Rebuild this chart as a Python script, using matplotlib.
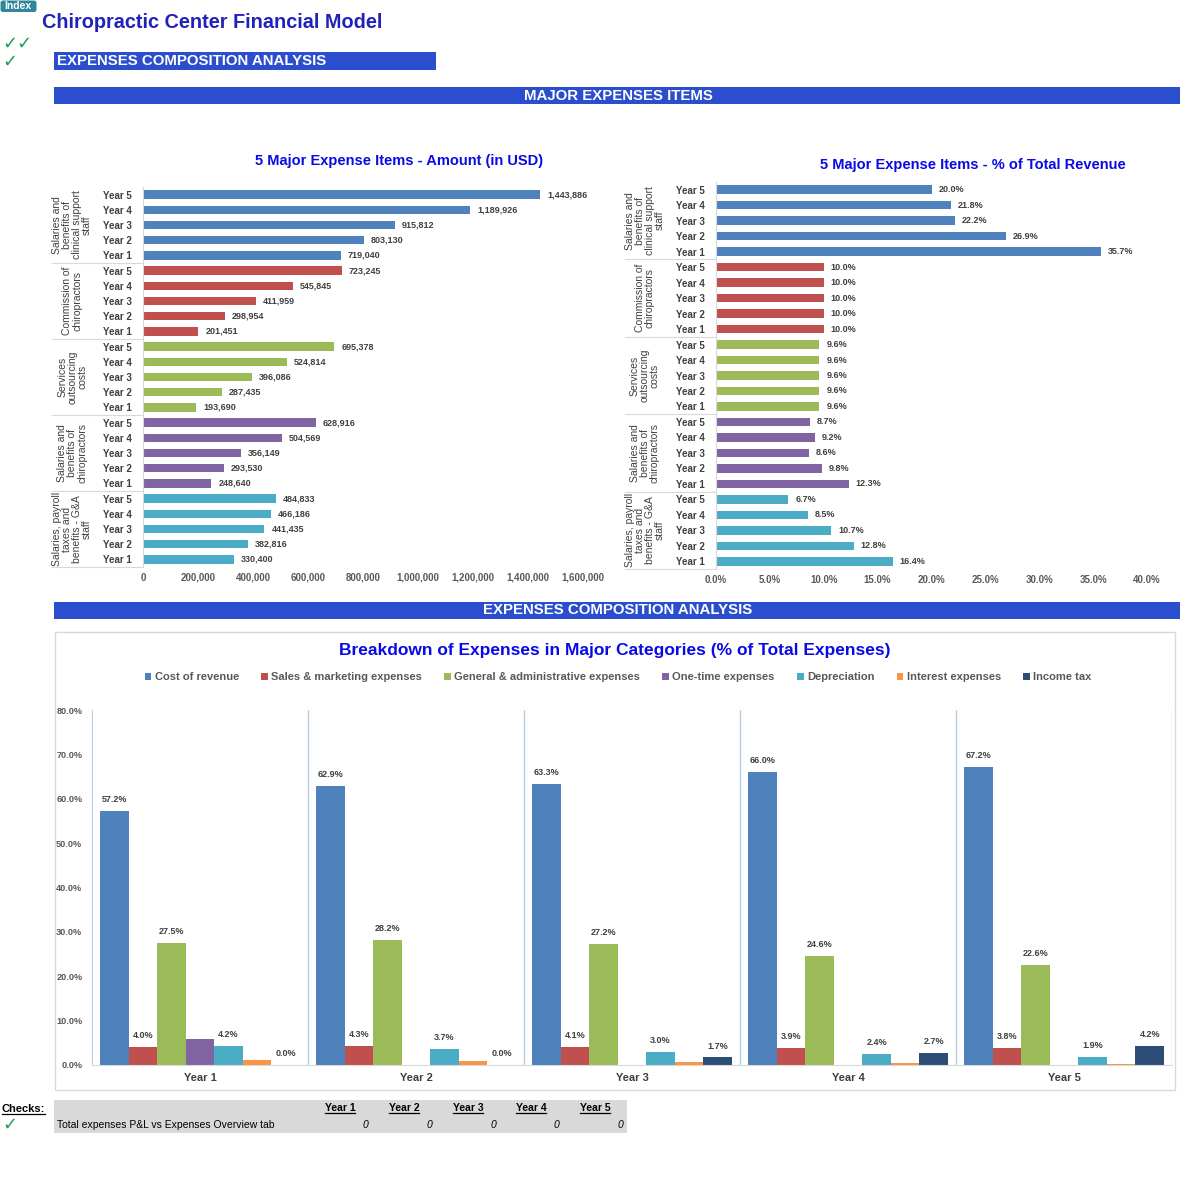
import matplotlib
matplotlib.use('Agg')
import matplotlib.pyplot as plt
import matplotlib.transforms as mtransforms
from matplotlib.patches import Rectangle, FancyBboxPatch
from matplotlib.lines import Line2D
import numpy as np

plt.rcParams['font.family'] = ['Liberation Sans', 'DejaVu Sans']

# ---- data ----
years = ['Year 1', 'Year 2', 'Year 3', 'Year 4', 'Year 5']
items = ['Salaries and\nbenefits of\nclinical support\nstaff',
         'Commission of\nchiropractors',
         'Services\noutsourcing\ncosts',
         'Salaries and\nbenefits of\nchiropractors',
         'Salaries, payroll\ntaxes and\nbenefits - G&A\nstaff']

# amounts in USD, Year 1 .. Year 5
clinical_usd = [719040, 803130, 915812, 1189926, 1443886]
commission_usd = [201451, 298954, 411959, 545845, 723245]
outsourcing_usd = [193690, 287435, 396086, 524814, 695378]
chiro_usd = [248640, 293530, 356149, 504569, 628916]
ga_staff_usd = [330400, 382816, 441435, 466186, 484833]

# % of total revenue, Year 1 .. Year 5
clinical_pct = [35.7, 26.9, 22.2, 21.8, 20.0]
commission_pct = [10.0, 10.0, 10.0, 10.0, 10.0]
outsourcing_pct = [9.6, 9.6, 9.6, 9.6, 9.6]
chiro_pct = [12.3, 9.8, 8.6, 9.2, 8.7]
ga_staff_pct = [16.4, 12.8, 10.7, 8.5, 6.7]

# breakdown of expenses, % of total expenses
categories = ['Cost of revenue', 'Sales & marketing expenses', 'General & administrative expenses',
              'One-time expenses', 'Depreciation', 'Interest expenses', 'Income tax']
cost_of_revenue = [57.2, 62.9, 63.3, 66.0, 67.2]
sales_marketing = [4.0, 4.3, 4.1, 3.9, 3.8]
general_admin = [27.5, 28.2, 27.2, 24.6, 22.6]
one_time = [5.9, 0.0, 0.0, 0.0, 0.0]
depreciation = [4.2, 3.7, 3.0, 2.4, 1.9]
interest = [1.1, 0.9, 0.6, 0.4, 0.2]
income_tax = [0.0, 0.0, 1.7, 2.7, 4.2]
labelled = [True, True, True, False, True, False, True]

check_values = [0, 0, 0, 0, 0]

item_colors = ['#4F81BD', '#C0504D', '#9BBB59', '#8064A2', '#4BACC6']
cat_colors = ['#4F81BD', '#C0504D', '#9BBB59', '#8064A2', '#4BACC6', '#F79646', '#2C4D75']
header_blue = '#2B4ECF'
title_blue = '#0A0AE6'
grey_text = '#404040'

W = H = 1200
fig = plt.figure(figsize=(12, 12), dpi=100)
fig.patch.set_facecolor('white')


def fx(x):
    return x / W


def fy(y):
    return 1 - y / H


def px_axes(l, t, r, b):
    return fig.add_axes([l / W, 1 - b / H, (r - l) / W, (b - t) / H])


def band(x0, y0, x1, y1, color):
    fig.add_artist(Rectangle((x0 / W, 1 - y1 / H), (x1 - x0) / W, (y1 - y0) / H,
                             transform=fig.transFigure, facecolor=color, edgecolor='none'))


def underlined(x, y, s, **kw):
    t = fig.text(fx(x), fy(y), s, **kw)
    bb = t.get_window_extent(renderer=fig.canvas.get_renderer())
    fig.add_artist(Line2D([bb.x0 / W, bb.x1 / W], [(bb.y0 + 0.5) / H] * 2,
                          transform=fig.transFigure, color=kw.get('color', 'black'), lw=0.9))
    return t


# ---- sheet header ----
fig.add_artist(FancyBboxPatch((0.5 / W, 1 - 12 / H), 36 / W, 11.5 / H,
                              boxstyle='round,pad=0,rounding_size=0.002',
                              transform=fig.transFigure, facecolor='#31869B', edgecolor='none'))
fig.text(fx(18), fy(6), 'Index', color='white', fontsize=7.5, fontweight='bold', ha='center', va='center')
fig.text(fx(42), fy(22), 'Chiropractic Center Financial Model', color='#2222BB',
         fontsize=14.3, fontweight='bold', ha='left', va='center')
fig.text(fx(2), fy(44), '✓✓', color='#1E9E5A', fontsize=13, ha='left', va='center')
fig.text(fx(2), fy(62), '✓', color='#1E9E5A', fontsize=13, ha='left', va='center')

band(54, 52, 436, 70, header_blue)
fig.text(fx(57), fy(61), 'EXPENSES COMPOSITION ANALYSIS', color='white', fontsize=10.8,
         fontweight='bold', ha='left', va='center')
band(54, 87, 1180, 104, header_blue)
fig.text(fx(618), fy(96), 'MAJOR EXPENSES ITEMS', color='white', fontsize=10.8,
         fontweight='bold', ha='center', va='center')
band(54, 602, 1180, 619, header_blue)
fig.text(fx(618), fy(610), 'EXPENSES COMPOSITION ANALYSIS', color='white', fontsize=10.8,
         fontweight='bold', ha='center', va='center')


# ---- top bar charts ----
def hbar_chart(ax, series, labfmt, xmax, step, tickfmt, group_x, sep_x):
    vals, labs, cols = [], [], []
    for i, s in enumerate(series):
        for j in reversed(range(5)):
            vals.append(s[j])
            labs.append(years[j])
            cols.append(item_colors[i])
    ys = np.arange(len(vals))
    bars = ax.barh(ys, vals, height=0.55, color=cols)
    ax.bar_label(bars, labels=[labfmt(v) for v in vals], padding=5,
                 fontsize=6.5, fontweight='bold', color=grey_text)
    ax.set_ylim(len(vals) - 0.5, -0.5)
    ax.set_yticks(ys, labs)
    ax.set_xlim(0, xmax)
    ticks = np.arange(0, xmax + step / 2, step)
    ax.set_xticks(ticks, [tickfmt(t) for t in ticks])
    ax.tick_params(axis='y', length=0, pad=8, labelsize=7, labelcolor=grey_text)
    ax.tick_params(axis='x', length=0, pad=4, labelsize=7, labelcolor='#595959')
    for lab in ax.get_xticklabels() + ax.get_yticklabels():
        lab.set_fontweight('bold')
    for side in ['top', 'right', 'bottom']:
        ax.spines[side].set_visible(False)
    ax.spines['left'].set_color('#D9D9D9')
    trans = mtransforms.blended_transform_factory(ax.transAxes, ax.transData)
    for i, name in enumerate(items):
        ax.text(group_x, i * 5 + 2, name, transform=trans, rotation=90, ha='center', va='center',
                fontsize=7.5, color=grey_text, multialignment='center', linespacing=1.0)
        ax.plot([sep_x, 0], [i * 5 + 4.5] * 2, transform=trans, clip_on=False,
                color='#D9D9D9', lw=0.8)


ax1 = px_axes(143, 187, 583, 567)
hbar_chart(ax1, [clinical_usd, commission_usd, outsourcing_usd, chiro_usd, ga_staff_usd],
           lambda v: f'{v:,.0f}', 1600000, 200000, lambda t: f'{t:,.0f}', -0.161, -0.207)
fig.text(fx(399), fy(161), '5 Major Expense Items - Amount (in USD)', color=title_blue,
         fontsize=10.5, fontweight='bold', ha='center', va='center')

ax2 = px_axes(716, 182, 1147, 569)
hbar_chart(ax2, [clinical_pct, commission_pct, outsourcing_pct, chiro_pct, ga_staff_pct],
           lambda v: f'{v:.1f}%', 40, 5, lambda t: f'{t:.1f}%', -0.165, -0.211)
fig.text(fx(973), fy(165), '5 Major Expense Items - % of Total Revenue', color=title_blue,
         fontsize=10.5, fontweight='bold', ha='center', va='center')

# ---- bottom grouped column chart ----
fig.add_artist(Rectangle((55 / W, 1 - 1090 / H), 1120 / W, 458 / H, transform=fig.transFigure,
                         facecolor='none', edgecolor='#D9D9D9', lw=1))
fig.text(fx(615), fy(651), 'Breakdown of Expenses in Major Categories (% of Total Expenses)',
         color=title_blue, fontsize=12.5, fontweight='bold', ha='center', va='center')

ax3 = px_axes(92, 710, 1172, 1065)
series = [cost_of_revenue, sales_marketing, general_admin, one_time, depreciation, interest, income_tax]
x = np.arange(len(years))
w = 0.1324
handles = []
for k, s in enumerate(series):
    bars = ax3.bar(x + (k - 3) * w, s, width=w, color=cat_colors[k], label=categories[k])
    handles.append(bars)
    if labelled[k]:
        ax3.bar_label(bars, labels=[f'{v:.1f}%' for v in s], padding=5,
                      fontsize=6.5, fontweight='bold', color=grey_text)
ax3.set_xlim(-0.5, 4.5)
ax3.set_ylim(0, 80)
ax3.set_yticks(np.arange(0, 81, 10), [f'{t:.1f}%' for t in np.arange(0, 81, 10)])
ax3.set_xticks(x, years)
ax3.tick_params(axis='y', length=0, pad=7, labelsize=6.6, labelcolor='#595959')
ax3.tick_params(axis='x', length=0, pad=6, labelsize=8, labelcolor=grey_text)
for lab in ax3.get_xticklabels() + ax3.get_yticklabels():
    lab.set_fontweight('bold')
for side in ['top', 'right']:
    ax3.spines[side].set_visible(False)
ax3.spines['left'].set_color('#B9CDE5')
ax3.spines['bottom'].set_color('#D9D9D9')
for b in np.arange(0.5, 5, 1.0):
    ax3.axvline(b, color='#B9CDE5', lw=1)

fig.legend(handles=handles, loc='center', bbox_to_anchor=(fx(618), fy(677)), ncol=7,
           frameon=False, fontsize=8, handlelength=0.6, handleheight=0.6, handletextpad=0.3,
           columnspacing=2.0, prop={'weight': 'bold', 'size': 8}, labelcolor='#595959')

# ---- checks table ----
band(54, 1100, 627, 1133, '#D9D9D9')
underlined(2, 1109, 'Checks:', fontsize=8, fontweight='bold', color='black', ha='left', va='center')
fig.text(fx(2), fy(1125), '✓', color='#1E9E5A', fontsize=13, ha='left', va='center')
head_x = [340, 404, 468, 531, 595]
for hx, yr, v in zip(head_x, years, check_values):
    underlined(hx, 1108, yr, fontsize=7.5, fontweight='bold', color='black', ha='center', va='center')
    fig.text(fx(hx + 28), fy(1125), str(v), fontsize=7.5, fontstyle='italic', color='black',
             ha='right', va='center')
fig.text(fx(57), fy(1125), 'Total expenses P&L vs Expenses Overview tab', fontsize=7.5,
         color='black', ha='left', va='center')

fig.savefig('out.png', dpi=100, facecolor='white')
